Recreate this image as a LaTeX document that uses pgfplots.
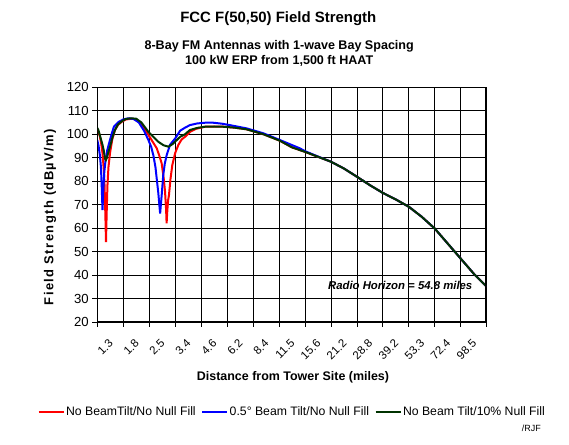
\documentclass[border=0pt]{standalone}
\usepackage{pgfplots}
\usepackage{pgfplotstable}
\pgfplotsset{compat=1.18}
\usepackage{fontspec}
\setmainfont{Liberation Sans}
\definecolor{nfred}{RGB}{255,0,0}
\definecolor{nfblue}{RGB}{0,0,255}
\definecolor{nfgreen}{RGB}{0,51,0}

% x = position on the category axis (0..15), y = field strength in dBuV/m
\pgfplotstableread{
x y
0.00 102
0.05 101
0.10 99
0.15 96
0.20 92
0.25 85
0.28 78
0.31 66
0.335 54
0.36 66
0.39 78
0.43 86
0.49 92
0.58 98
0.68 101.8
0.80 104
0.94 105.3
1.10 106.3
1.32 106.6
1.50 106.3
1.70 104.5
1.97 99.7
2.15 96.5
2.29 94
2.40 90.5
2.48 87.6
2.56 81
2.61 75.5
2.65 68
2.67 62
2.70 68
2.73 72
2.76 74
2.82 81
2.89 86.9
3.00 92
3.12 95.4
3.25 97.8
3.38 98.9
3.57 101
3.80 102.3
4.15 103.2
4.50 103.3
4.85 103.2
5.30 102.8
5.75 102.1
6.40 100
7.04 97.2
7.50 94.4
8.00 92.5
8.50 90.4
9.00 88.3
9.50 85.4
10.00 81.9
10.50 78.3
11.00 75
11.50 72.2
12.00 69.1
12.50 64.8
13.00 59.8
13.50 53.4
14.00 47
14.50 40.6
15.00 35
}\redtab

\pgfplotstableread{
x y
0.00 97.5
0.05 95
0.10 91
0.14 86
0.17 78
0.20 67.7
0.23 76
0.27 84
0.32 89
0.38 93
0.45 96
0.55 100
0.64 103.2
0.83 105.3
1.00 106.3
1.20 106.8
1.40 106.5
1.60 105
1.80 101.5
1.97 97.5
2.08 94.5
2.16 91
2.24 86
2.29 81
2.35 75
2.42 66.2
2.48 74
2.54 82.6
2.60 87.5
2.67 91
2.80 95.5
3.00 98.2
3.19 101.5
3.38 102.8
3.57 103.9
3.85 104.6
4.15 104.9
4.47 104.9
4.80 104.5
5.10 103.9
5.75 102.5
6.40 100.4
7.04 97.5
7.80 94
8.00 92.8
8.50 90.5
9.00 88.3
9.50 85.4
10.00 81.9
10.50 78.3
11.00 75
11.50 72.2
12.00 69.1
12.50 64.8
13.00 59.8
13.50 53.4
14.00 47
14.50 40.6
15.00 35
}\bluetab

\pgfplotstableread{
x y
0.00 102.7
0.05 101.5
0.10 99.5
0.15 97.5
0.20 95.5
0.25 93
0.30 89.5
0.33 89
0.37 90
0.43 92.5
0.49 94.7
0.58 98.5
0.68 101.8
0.80 104.2
0.94 105.5
1.10 106.5
1.30 106.8
1.50 106.6
1.70 105
1.97 101
2.15 99
2.35 96.8
2.55 95.3
2.74 94.7
2.90 95.8
3.06 97.5
3.19 98.9
3.38 100
3.57 101.8
3.85 102.7
4.15 103.2
4.85 103.2
5.30 102.8
5.75 102.1
6.40 100
7.04 97.2
7.50 94.4
8.00 92.5
8.50 90.4
9.00 88.3
9.50 85.4
10.00 81.9
10.50 78.3
11.00 75
11.50 72.2
12.00 69.1
12.50 64.8
13.00 59.8
13.50 53.4
14.00 47
14.50 40.6
15.00 35
}\greentab

\begin{document}
\begin{tikzpicture}
\fill[white, use as bounding box] (0,0) rectangle (569bp,445bp);
\begin{axis}[
  at={(97.3bp,123bp)}, anchor=south west,
  scale only axis,
  width=389.4bp, height=234.7bp,
  xmin=0, xmax=15, ymin=20, ymax=120,
  ytick={20,30,...,120},
  xtick={0.5,1.5,...,14.5},
  xticklabels={1.3,1.8,2.5,3.4,4.6,6.2,8.4,11.5,15.6,21.2,28.8,39.2,53.3,72.4,98.5},
  minor xtick={0,1,...,15},
  major x tick style={draw=none},
  xminorgrids=true, ymajorgrids=true,
  grid style={black, line width=0.8bp},
  minor grid style={black, line width=0.8bp},
  tick style={black, line width=0.8bp},
  major tick length=5bp, minor tick length=5bp,
  tick align=outside, tick pos=left,
  axis line style={black, line width=0.8bp},
  /pgf/number format/assume math mode=true,
  yticklabel style={font=\fontsize{13.2}{14}\selectfont},
  xticklabel style={font=\fontsize{11.5}{12}\selectfont, xshift=3bp, yshift=-12bp, rotate=45, anchor=east},
  legend columns=3,
  legend style={at={(0.5,-0.3835)}, anchor=center, draw=none, fill=none,
    font=\fontsize{12.3}{14}\selectfont, inner sep=0pt,
    nodes={inner xsep=1.5bp, inner ysep=1bp},
    /tikz/every even column/.append style={column sep=4bp}},
  legend image code/.code={\draw[#1, line width=2bp] (0bp,0bp) -- (25bp,0bp);},
]
\addplot[nfred, line width=2bp] table {\redtab};
\addlegendentry{No BeamTilt/No Null Fill}
\addplot[nfblue, line width=2bp] table {\bluetab};
\addlegendentry{0.5° Beam Tilt/No Null Fill}
\addplot[nfgreen, line width=2bp] table {\greentab};
\addlegendentry{No Beam Tilt/10\% Null Fill}
\draw[black, line width=2bp] (rel axis cs:0,1) -- (rel axis cs:0,0) -- (rel axis cs:1,0);
\draw[black, line width=2.6bp] (rel axis cs:1,0) -- (rel axis cs:1,1);
\end{axis}
\node[font=\bfseries\fontsize{15}{17}\selectfont] at (278.3bp,426.2bp) {FCC F(50,50) Field Strength};
\node[font=\bfseries\fontsize{12.6}{14}\selectfont] at (279.2bp,399bp) {8-Bay FM Antennas with 1-wave Bay Spacing};
\node[font=\bfseries\fontsize{12.6}{14}\selectfont] at (279.2bp,384bp) {100 kW ERP from 1,500 ft HAAT};
\node[font=\bfseries\fontsize{12.5}{14}\selectfont] at (293bp,68bp) {Distance from Tower Site (miles)};
\node[font=\bfseries\fontsize{13}{14}\selectfont\addfontfeature{LetterSpace=11}, rotate=90] at (50bp,228bp) {Field Strength (dBµV/m)};
\node[font=\bfseries\itshape\fontsize{11.4}{13}\selectfont] at (400.2bp,159.3bp) {Radio Horizon = 54.8 miles};
\node[font=\fontsize{9}{10}\selectfont, anchor=east, inner sep=0pt] at (541bp,17bp) {/RJF};
\end{tikzpicture}
\end{document}
